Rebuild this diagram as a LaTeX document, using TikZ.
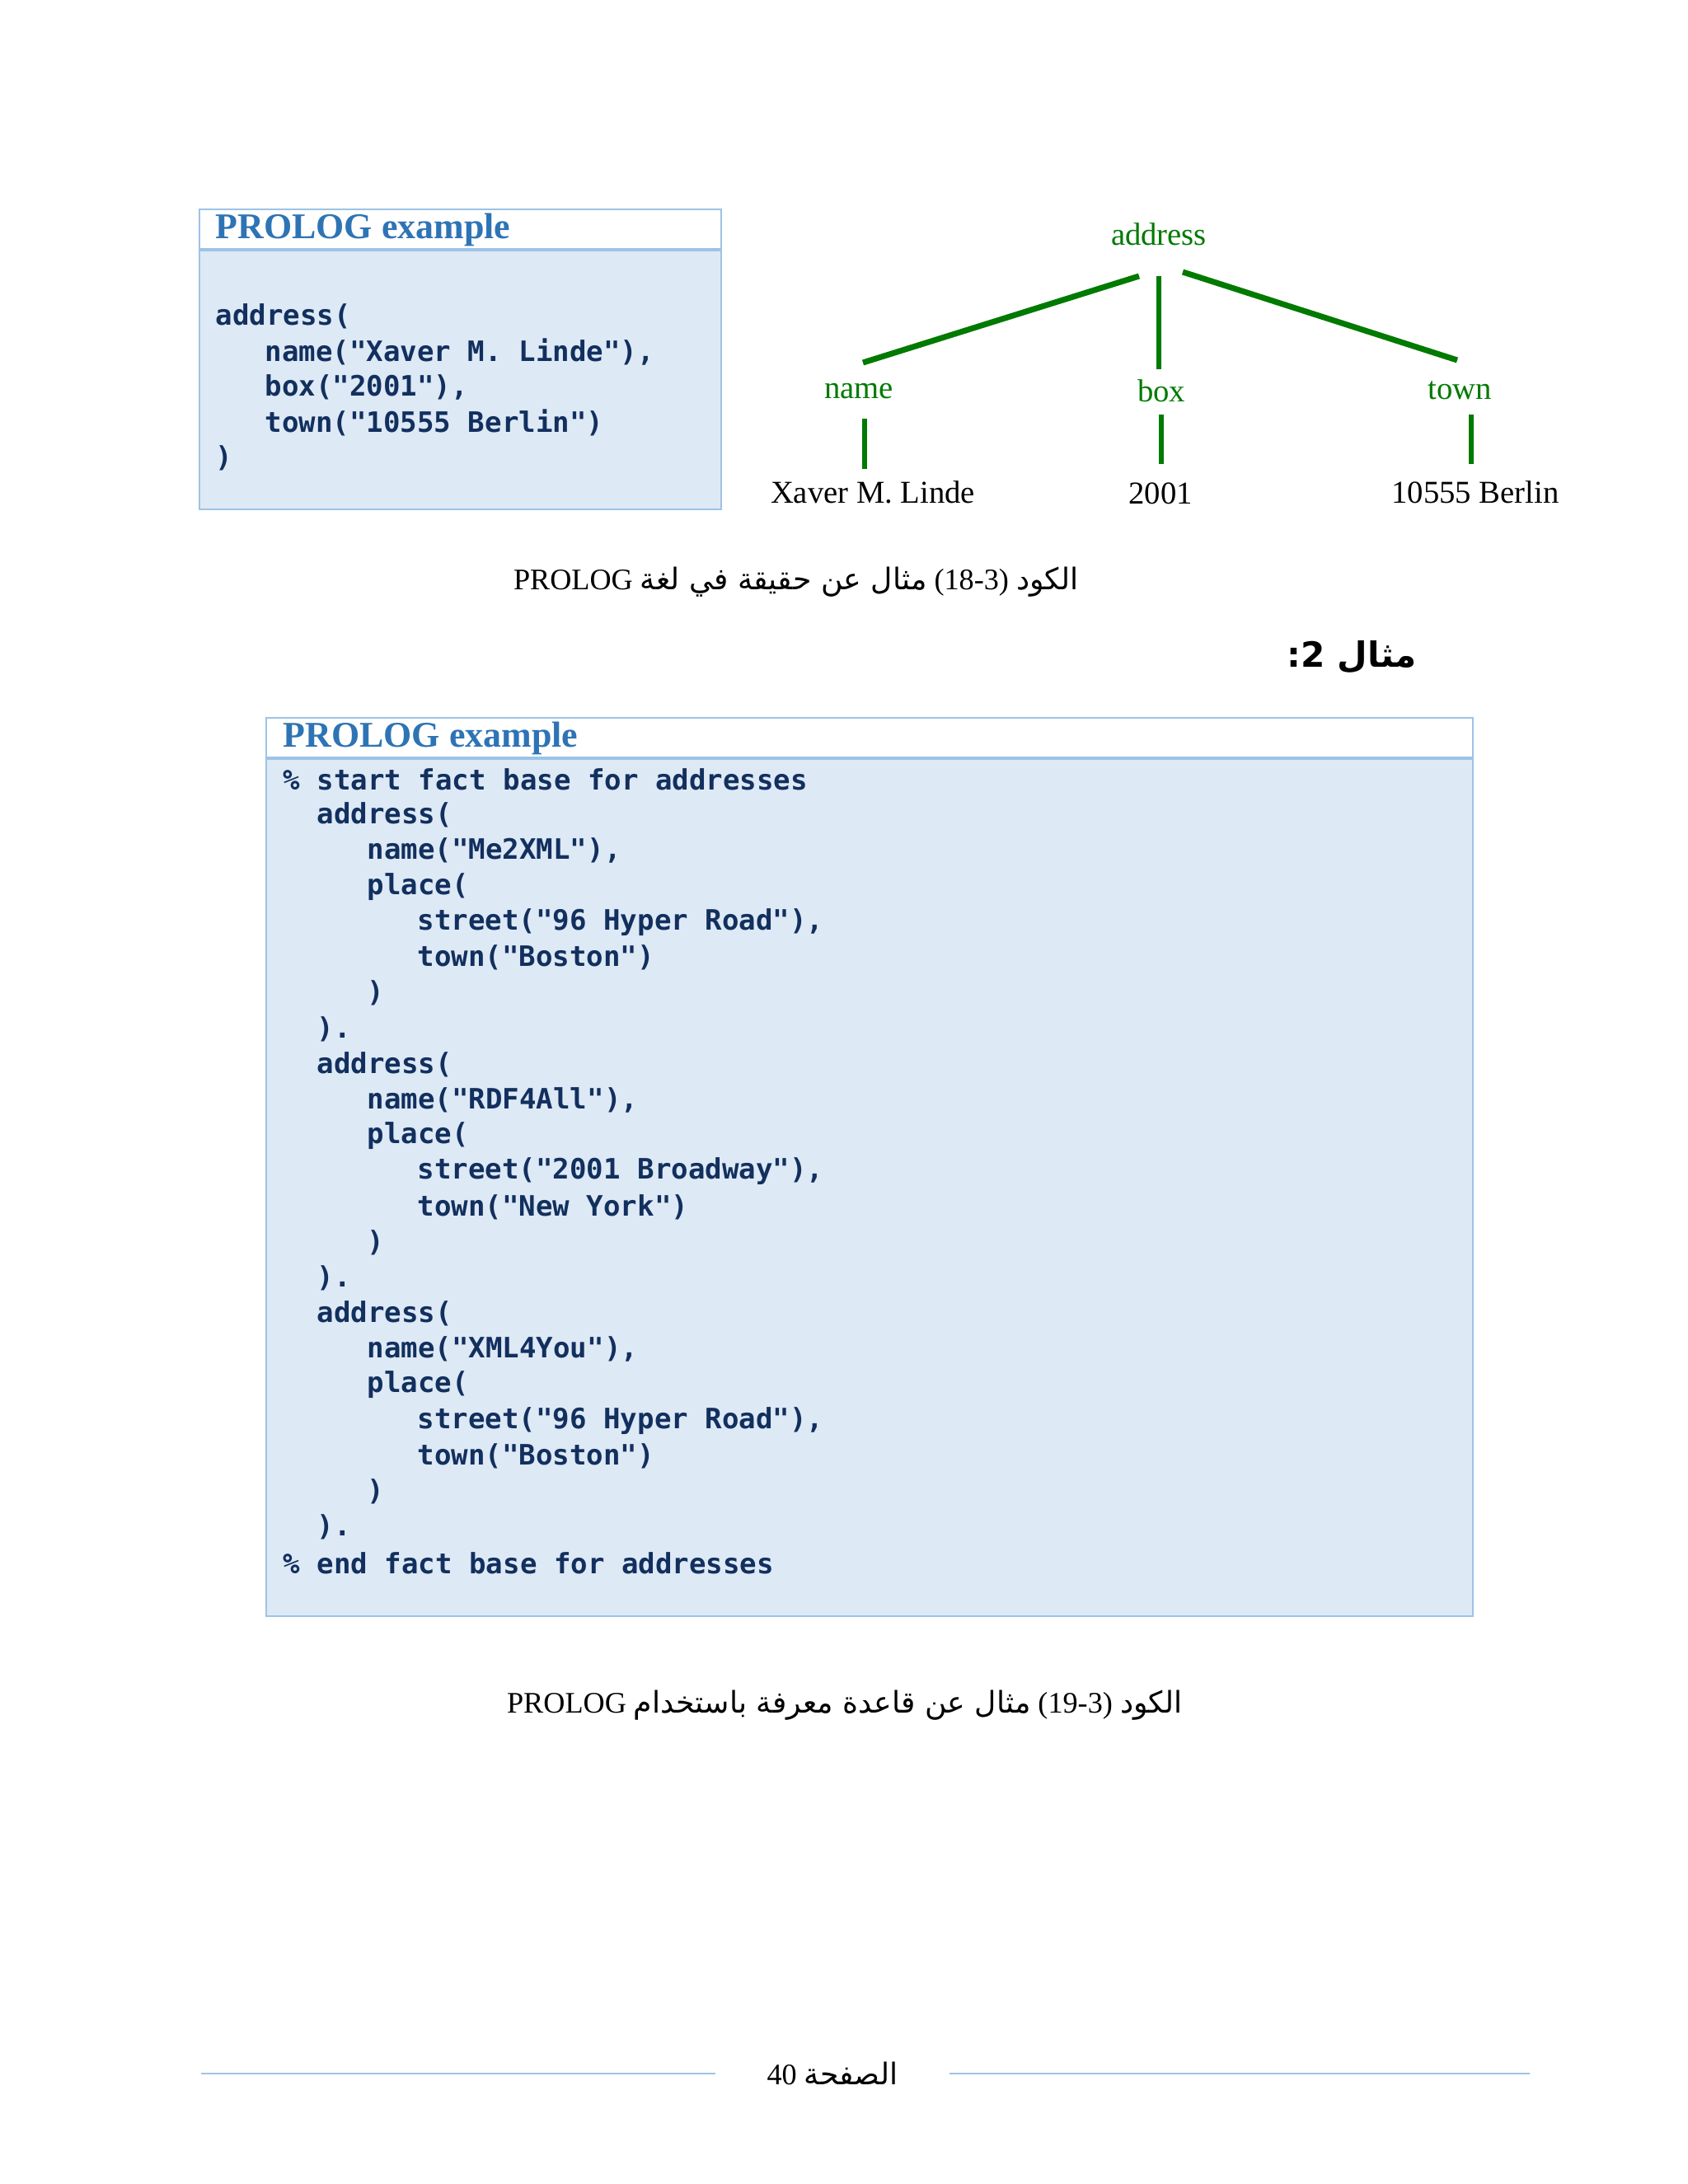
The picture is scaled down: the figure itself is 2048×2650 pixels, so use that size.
\documentclass[tikz,border=0pt]{standalone}
\usepackage{fontspec}
\setmainfont{Liberation Serif}
\setmonofont{DejaVu Sans Mono}
\newfontfamily\ar[Script=Arabic]{DejaVu Sans}
\TeXXeTstate=1
\definecolor{boxfill}{HTML}{DEE9F6}
\definecolor{boxline}{HTML}{9DC3E6}
\definecolor{titleblue}{HTML}{2E74B5}
\definecolor{codecol}{HTML}{12305E}
\definecolor{treegreen}{HTML}{007A00}
\tikzset{
  code/.style={anchor=west,inner sep=0pt,font=\fontsize{9.7}{12}\ttfamily\bfseries,text=codecol},
  ttl/.style={anchor=west,inner sep=0pt,font=\fontsize{12.5}{14}\selectfont\bfseries,text=titleblue},
  tlab/.style={inner sep=0pt,font=\fontsize{11}{13}\selectfont,text=treegreen},
  tval/.style={inner sep=0pt,font=\fontsize{11}{13}\selectfont},
  captxt/.style={inner sep=0pt,font=\fontsize{10.3}{13}\selectfont},
  branch/.style={draw=treegreen,line width=2pt},
  leaf/.style={draw=treegreen,line width=1.5pt},
}
\begin{document}
\begin{tikzpicture}[x=0.1mm,y=-0.1mm]
\useasboundingbox[fill=white] (0,0) rectangle (2048,2650);
% box 1
\fill[boxfill] (242,254) rectangle (875,618);
\fill[white] (242,254) rectangle (875,303);
\draw[boxline,line width=0.6pt] (242,254) rectangle (875,618);
\draw[boxline,line width=1.3pt] (242,303) -- (875,303);
\node[ttl] (t1) at (261,279) {PROLOG example};
\node[code] (a1) at (261,384) {address(};
\node[code] (a2) at (321,427) {name("Xaver M. Linde"),};
\node[code] (a3) at (321,470) {box("2001"),};
\node[code] (a4) at (321,513) {town("10555 Berlin")};
\node[code] (a5) at (261,556) {)};
% tree
\node[tlab] (ad) at (1406,284) {address};
\node[tlab] (nm) at (1042,475) {name};
\node[tlab] (bx) at (1409,474) {box};
\node[tlab] (tw) at (1771,474) {town};
\node[tval] (xv) at (1059,597) {Xaver M. Linde};
\node[tval] (yr) at (1408,599) {2001};
\node[tval] (bl) at (1790,597) {10555 Berlin};
\coordinate (p1) at (1382,335); \coordinate (q1) at (1047,440);
\coordinate (p2) at (1406,335); \coordinate (q2) at (1406,448);
\coordinate (p3) at (1435,330); \coordinate (q3) at (1768,437);
\draw[branch] (p1) -- (q1);
\draw[leaf] (p2) -- (q2);
\draw[branch] (p3) -- (q3);
\coordinate (r1) at (1049,508); \coordinate (s1) at (1049,569);
\coordinate (r2) at (1409,503); \coordinate (s2) at (1409,563);
\coordinate (r3) at (1785,503); \coordinate (s3) at (1785,563);
\draw[leaf] (r1) -- (s1);
\draw[leaf] (r2) -- (s2);
\draw[leaf] (r3) -- (s3);
% caption 1
\node[captxt] (c1) at (966,706) {\beginR{\ar الكود} \beginL(18-3)\endL{} {\ar مثال عن حقيقة في لغة} \beginL PROLOG\endL\endR};
\node[inner sep=0pt,font=\fontsize{12}{14}\selectfont] (ex2) at (1640,797) {\ar\bfseries\beginR مثال 2:\endR};
% box 2
\fill[boxfill] (323,871) rectangle (1787,1961);
\fill[white] (323,871) rectangle (1787,920);
\draw[boxline,line width=0.6pt] (323,871) rectangle (1787,1961);
\draw[boxline,line width=1.3pt] (323,920) -- (1787,920);
\node[ttl] (t2) at (343,896) {PROLOG example};
\foreach \x/\txt [count=\i] in {
343/{\% start fact base for addresses},
384/{address(},
445/{name("Me2XML"),},
445/{place(},
506/{street("96 Hyper Road"),},
506/{town("Boston")},
445/{)},
384/{).},
384/{address(},
445/{name("RDF4All"),},
445/{place(},
506/{street("2001 Broadway"),},
506/{town("New York")},
445/{)},
384/{).},
384/{address(},
445/{name("XML4You"),},
445/{place(},
506/{street("96 Hyper Road"),},
506/{town("Boston")},
445/{)},
384/{).},
343/{\% end fact base for addresses}}
  \node[code] (b\i) at (\x,{946+43.2*(\i-1)}) {\txt};
% caption 2
\node[captxt] (c2) at (1025,2069) {\beginR{\ar الكود} \beginL(19-3)\endL{} {\ar مثال عن قاعدة معرفة باستخدام} \beginL PROLOG\endL\endR};
% footer
\coordinate (f1) at (244,2516); \coordinate (f2) at (868,2516);
\coordinate (f3) at (1152,2516); \coordinate (f4) at (1856,2516);
\draw[boxline,line width=0.8pt] (f1) -- (f2);
\draw[boxline,line width=0.8pt] (f3) -- (f4);
\node[captxt] (pg) at (1010,2516) {\beginR{\ar الصفحة} \beginL 40\endL\endR};
\end{tikzpicture}
\end{document}
